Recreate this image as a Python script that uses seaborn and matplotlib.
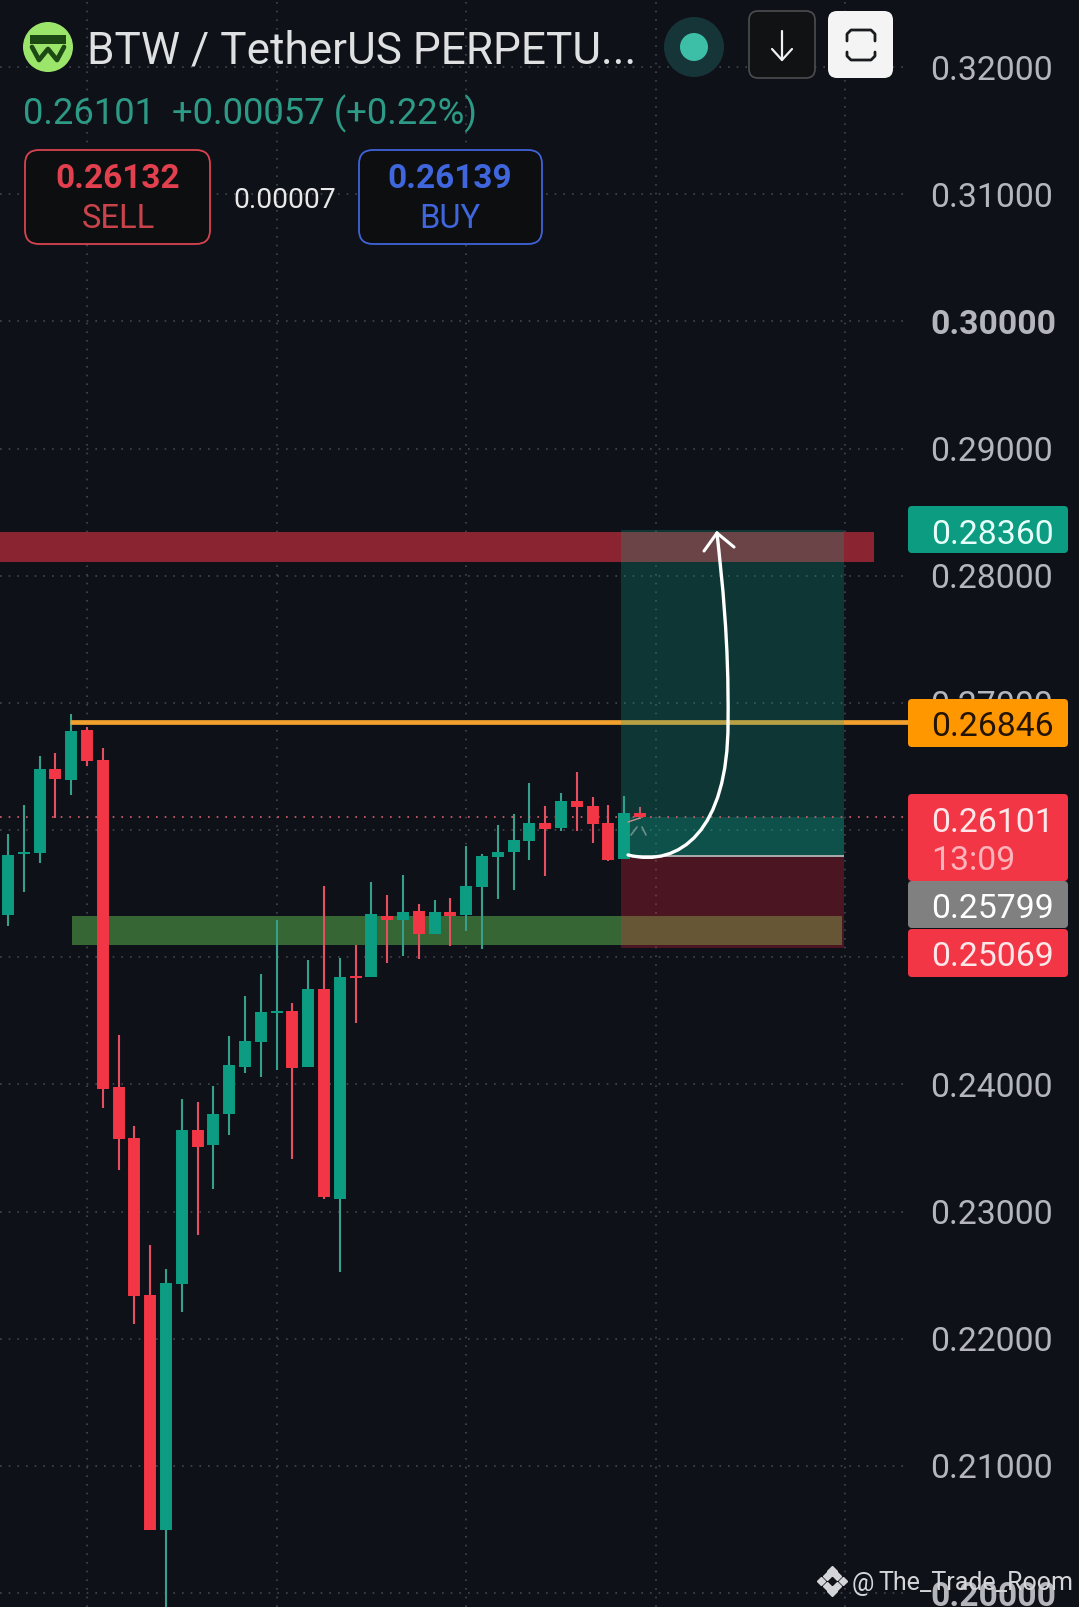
# plot.py
# candle chart screenshot rebuilt with seaborn

import matplotlib
matplotlib.use("Agg")
import matplotlib.pyplot as plt
import pandas as pd
import seaborn as sns
import seaborn.objects as so
from matplotlib.patches import Circle, FancyBboxPatch, PathPatch, Rectangle
from matplotlib.path import Path
from matplotlib.transforms import Affine2D

# candle values
opens = [.25332, .25810, .25819, .26480, .26393, .26787, .26551, .23979, .23578, .22344, .20496,
         .22430, .23641, .23523, .23767, .24136, .24333, .24560, .24577, .24136, .24750, .23098,
         .24850, .24844, .25320, .25292, .25363, .25182, .25355, .25332, .25552, .25788, .25827,
         .25914, .26055, .26016, .26228, .26189, .26055, .25772, .26134]
highs = [.25969, .26197, .26582, .26606, .26912, .26810, .26645, .24388, .23673, .22737, .22548,
         .23885, .23861, .23987, .24380, .24695, .24868, .25292, .24640, .24978, .25560, .24994,
         .25096, .25591, .25489, .25646, .25418, .25450, .25465, .25874, .25812, .26039, .26126,
         .26370, .26189, .26291, .26456, .26260, .26197, .26267, .26181]
lows = [.25245, .25513, .25741, .26095, .26275, .26503, .23814, .23327, .22116, .20496, .19000,
        .22210, .22815, .23177, .23602, .24089, .24058, .24113, .23413, .24136, .23098, .22524,
        .24482, .24844, .24954, .25009, .24986, .25182, .25088, .25206, .25064, .25458, .25528,
        .25764, .25638, .25992, .25992, .25898, .25756, .25772, .26087]
closes = [.25804, .25825, .26480, .26401, .26779, .26543, .23964, .23570, .22336, .20496, .22438,
          .23641, .23507, .23767, .24152, .24341, .24569, .24575, .24129, .24750, .23114, .24844,
          .24838, .25340, .25296, .25355, .25182, .25355, .25324, .25560, .25796, .25827, .25921,
          .26055, .26008, .26228, .26181, .26047, .25764, .26134, .26101]

price_ticks = [.32, .31, .30, .29, .28, .27, .26, .25, .24, .23, .22, .21, .20]
price_labels = ["0.32000", "0.31000", "0.30000", "0.29000", "0.28000", "0.27000", "0.26000",
                "0.25000", "0.24000", "0.23000", "0.22000", "0.21000", "0.20000"]
bold_labels = ["0.30000", "0.20000"]
time_ticks = [5, 17, 29, 41, 53]

resist_zone = (.28108, .28343)
support_zone = (.25096, .25324)
target_price = .28360
entry_price = .25799
stop_price = .25069
last_price = .26101
level_price = .26846

# hand drawn arrow on the chart (candle index, price)
arrow_x = [39.24, 42.53, 45.57, 45.57, 45.63, 45.19, 44.87]
arrow_y = [.25804, .25701, .26000, .26842, .27494, .27966, .28336]
arrow_head_x = [44.05, 44.87, 45.95]
arrow_head_y = [.28194, .28336, .28225]

BG = "#0f1119"
GREEN = "#0b9c82"
RED = "#f23645"
WICK_GREEN = "#37a08c"
WICK_RED = "#e4505f"
W, H = 1079, 1607

sns.set_theme(style="dark", rc={"figure.facecolor": BG, "axes.facecolor": BG})
plt.rcParams["font.family"] = ["Roboto", "DejaVu Sans"]

df = pd.DataFrame({"i": range(len(opens)), "open": opens, "high": highs, "low": lows, "close": closes})
df["top"] = df[["open", "close"]].max(axis=1)
df["bottom"] = df[["open", "close"]].min(axis=1)
df["up"] = df["close"] >= df["open"]

fig = plt.figure(figsize=(W / 100, H / 100), dpi=100)
ax = fig.add_axes([0, 0, 908 / W, 1])

# wicks stay under the zones, bodies go on top of them
for up, wick_col, body_col in [(True, WICK_GREEN, GREEN), (False, WICK_RED, RED)]:
    part = df[df["up"] == up]
    (so.Plot(part, x="i", ymin="low", ymax="high")
     .add(so.Range(color=wick_col, linewidth=1.5, artist_kws={"zorder": 1.5, "capstyle": "butt"}))
     .on(ax).plot())
    (so.Plot(part, x="i", ymin="bottom", ymax="top")
     .add(so.Range(color=body_col, linewidth=8.6, artist_kws={"zorder": 4, "capstyle": "butt"}))
     .on(ax).plot())

ax.set_xlim(-0.506, 56.96)
ax.set_ylim(0.19890, 0.32527)
ax.set_xlabel("")
ax.set_ylabel("")

ax.set_xticks(time_ticks)
ax.set_xticklabels([])
ax.set_yticks(price_ticks)
ax.set_yticklabels(price_labels)
ax.yaxis.tick_right()
ax.tick_params(axis="both", length=0)
ax.tick_params(axis="y", pad=16, labelsize=24.3, labelcolor="#b4b6bb")
for lab in ax.get_yticklabels():
    if lab.get_text() in bold_labels:
        lab.set_fontweight("bold")
ax.grid(True, color="#43464e", linewidth=1.2, linestyle=(0, (1, 4.2)))
ax.set_axisbelow(True)
sns.despine(ax=ax, left=True, bottom=True, right=True, top=True)

# zones and position box
ax.add_patch(Rectangle((-0.506, resist_zone[0]), 55.32, resist_zone[1] - resist_zone[0],
                       color="#8a2430", lw=0, zorder=1))
ax.add_patch(Rectangle((4.05, support_zone[0]), 48.73, support_zone[1] - support_zone[0],
                       color="#356634", lw=0, zorder=1))
ax.hlines(level_price, 3.95, 56.96, color="#f2a02e", lw=3.4, zorder=1.6)
long_col = (14 / 255, 165 / 255, 138 / 255)
ax.add_patch(Rectangle((38.8, entry_price), 14.1, target_price - entry_price,
                       color=long_col, alpha=0.25, lw=0, zorder=2))
ax.add_patch(Rectangle((38.8, entry_price), 14.1, last_price - entry_price,
                       color=long_col, alpha=0.25, lw=0, zorder=2))
ax.add_patch(Rectangle((38.8, stop_price), 14.1, entry_price - stop_price,
                       color="#ff283c", alpha=0.25, lw=0, zorder=2))
ax.hlines(entry_price, 38.8, 52.9, color="#a9adad", lw=1.4, zorder=2.5)
ax.axhline(last_price, color="#d9616c", linewidth=1.2, linestyle=(0, (1, 4.2)), zorder=3)

curve = Path(list(zip(arrow_x, arrow_y)), [Path.MOVETO] + [Path.CURVE4] * 6)
ax.add_patch(PathPatch(curve, fc="none", ec="white", lw=2.4, zorder=5, capstyle="round"))
ax.plot(arrow_head_x, arrow_head_y, color="white", lw=2.2, zorder=5)

# everything below is placed in screen pixels, y going down
px = Affine2D().scale(1, -1).translate(0, H)


def box(x0, y0, x1, y1, face, edge="none", lw=0, rad=4):
    fig.add_artist(FancyBboxPatch((x0 + rad, y0 + rad), x1 - x0 - 2 * rad, y1 - y0 - 2 * rad,
                                  boxstyle=f"round,pad={rad},rounding_size={rad}",
                                  fc=face, ec=edge, lw=lw, transform=px))


def label(x, y, s, size, color, ha="left", weight="normal"):
    fig.text(x, y, s, fontsize=size, color=color, ha=ha, va="center_baseline",
             fontweight=weight, transform=px)


def polyline(xs, ys, color, lw):
    fig.add_artist(plt.Line2D(xs, ys, color=color, lw=lw, transform=px,
                              solid_capstyle="round", solid_joinstyle="round"))


# header
fig.add_artist(Circle((48, 47), 25, fc="#9be66a", ec="none", transform=px))
fig.add_artist(Rectangle((30, 35), 36, 9, fc="#1d4a14", ec="none", transform=px))
polyline([32, 39, 48, 57, 64], [47, 60, 49, 60, 47], "#1d4a14", 3.4)
label(87, 47, "BTW / TetherUS PERPETU...", 31.8, "#dfe0e2")

fig.add_artist(Circle((694, 47), 30, fc="#163538", ec="none", transform=px))
fig.add_artist(Circle((694, 47), 14, fc="#3cbfa6", ec="none", transform=px))
box(749, 11, 815, 78, "#111214", "#4c4d50", 1.2, rad=9)
polyline([782, 782], [31, 60], "#f0f0f0", 1.6)
polyline([772, 782, 792], [49, 60, 49], "#f0f0f0", 1.6)
box(828, 11, 893, 78, "#f4f4f4", rad=9)
polyline([847, 847, 851, 871, 875, 875], [41, 34, 30, 30, 34, 41], "#1a1b1f", 2)
polyline([847, 847, 851, 871, 875, 875], [52, 56, 60, 60, 56, 52], "#1a1b1f", 2)

label(23, 110, "0.26101", 26.2, "#2c9a85")
label(172, 110, "+0.00057 (+0.22%)", 26.2, "#2c9a85")

box(25, 150, 210, 244, "#0d0e10", "#d9434f", 1.3, rad=14)
label(118, 175, "0.26132", 24, "#e2404e", ha="center", weight="bold")
label(118, 215, "SELL", 23.5, "#c9434b", ha="center")
label(233, 197, "0.00007", 20.3, "#e8e8e8")
box(359, 150, 542, 244, "#0d0e10", "#3f63d9", 1.3, rad=14)
label(450, 175, "0.26139", 24, "#3f66dd", ha="center", weight="bold")
label(450, 215, "BUY", 23.5, "#3f66dd", ha="center")

# price badges
box(908, 506, 1068, 553, "#0b9c82", rad=4)
label(931, 531, "0.28360", 24.3, "#e6fff8")
box(908, 699, 1068, 747, "#ff9800", rad=4)
label(931, 724, "0.26846", 24.3, "#241405")
box(908, 794, 1068, 881, RED, rad=4)
label(931, 819, "0.26101", 24.3, "#ffe6e8")
label(931, 858, "13:09", 24.3, "#ffb4bb")
box(908, 881, 1068, 928, "#808080", rad=4)
label(931, 906, "0.25799", 24.3, "#ffffff")
box(908, 929, 1068, 977, RED, rad=4)
label(931, 953, "0.25069", 24.3, "#ffe6e8")

# small marks next to the last candle
polyline([631, 637], [835, 827], "#6f8f88", 1.2)
polyline([642, 646], [827, 835], "#6f8f88", 1.2)
polyline([628, 640], [822, 818], "#c98f92", 1.0)

# watermark
label(852, 1581, "@", 18, "#d4d5d8")
label(878, 1581, "The_Trade_Room", 18, "#d4d5d8")
for dx, dy, s in [(0, -10, 5), (0, 10, 5), (-11, 0, 4), (11, 0, 4), (-5, -5, 4), (5, -5, 4), (-5, 5, 4), (5, 5, 4)]:
    fig.add_artist(plt.Line2D([832 + dx], [1581 + dy], marker="D", ms=s, color="#d4d5d8", lw=0, transform=px))

fig.savefig("out.png", dpi=100, facecolor=BG)
